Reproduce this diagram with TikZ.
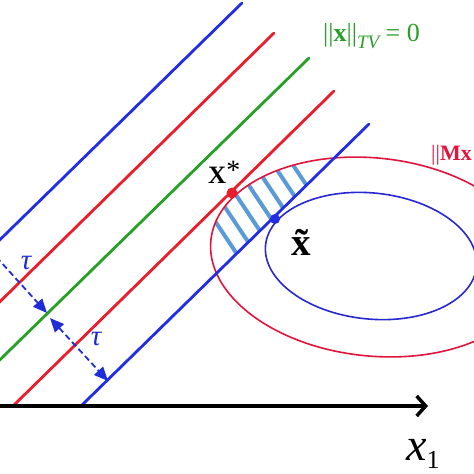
\documentclass[tikz,border=0pt]{standalone}
\usepackage{fontspec}
\setmainfont{Liberation Serif}
\usetikzlibrary{arrows.meta,calc}
\definecolor{lblue}{RGB}{35,45,225}
\definecolor{lred}{RGB}{232,30,45}
\definecolor{lgreen}{RGB}{40,160,40}
\definecolor{ered}{RGB}{225,20,60}
\definecolor{eblue}{RGB}{40,40,210}
\definecolor{hatchc}{RGB}{90,155,215}
\definecolor{taublue}{RGB}{30,45,215}
\tikzset{
  fam/.style={line width=2.8pt, line cap=round},
  ell/.style={line width=1.6pt},
  tauarrow/.style={taublue, line width=1.8pt, dash pattern=on 6pt off 3.5pt,
     arrows={-Triangle[length=14pt,width=12pt]}},
  tauarrowboth/.style={taublue, line width=1.8pt, dash pattern=on 6pt off 3.5pt,
     arrows={Triangle[length=14pt,width=12pt]-Triangle[length=14pt,width=12pt]}},
  hatchline/.style={hatchc, line width=4pt},
  lbl/.style={inner sep=0pt, anchor=base west},
  redell/.style={rotate around={-6:(373,257)}},
}
\begin{document}
\begin{tikzpicture}[x=1pt,y=-1pt]
\useasboundingbox (0,0) rectangle (474,474);
\clip (0,0) rectangle (474,474);
\fill[white] (0,0) rectangle (474,474);

% hatching
\begin{scope}
  \clip[redell] (373,257) ellipse [x radius=163, y radius=99];
  \clip (0,485) -- (474,21) -- (474,-10) -- (0,-10) -- cycle;
  \foreach \k in {0,...,6}{
    \coordinate (hp) at ({299-13.3*\k},{174+8.9*\k});
    \draw[hatchline] ($(hp)+(-22.2,-33.3)$) -- ($(hp)+(22.2,33.3)$);
  }
\end{scope}

% ellipses
\draw[ell, ered, redell] (373,257) ellipse [x radius=163, y radius=99];
\draw[ell, eblue, rotate around={-6:(371,256)}] (371,256) ellipse [x radius=106, y radius=63];

% family of lines
\coordinate (b1a) at (-30,269); \coordinate (b1b) at (242,3);
\coordinate (r1a) at (-30,331); \coordinate (r1b) at (274,33);
\coordinate (ga)  at (-30,389); \coordinate (gb)  at (309,58);
\coordinate (r2a) at (13,406);  \coordinate (r2b) at (334,91);
\coordinate (b2a) at (81,406);  \coordinate (b2b) at (369,124);
\draw[fam, lblue] (b1a) -- (b1b);
\draw[fam, lred] (r1a) -- (r1b);
\draw[fam, lgreen] (ga) -- (gb);
\draw[fam, lred] (r2a) -- (r2b);
\draw[fam, lblue] (b2a) -- (b2b);

% axis
\coordinate (ax0) at (-5,406);
\coordinate (ax1) at (428,406);
\draw[line width=3.5pt, arrows={-Straight Barb[length=9pt,width=20pt,line width=3.5pt]}] (ax0) -- (ax1);

% tau arrows
\coordinate (t1a) at (-10,250);
\coordinate (t1b) at (47,313);
\coordinate (t2a) at (50,318);
\coordinate (t2b) at (108,381);
\draw[tauarrow] (t1a) -- (t1b);
\draw[tauarrowboth] (t2a) -- (t2b);
\node[taublue, font=\fontsize{29}{29}\selectfont\itshape] (tau1) at (26,263) {τ};
\node[taublue, font=\fontsize{29}{29}\selectfont\itshape] (tau2) at (96,339) {τ};

% points
\fill[lred] (232,193) circle (5.5);
\fill[lblue] (275,219) circle (5);
\coordinate (xstar) at (232,193);
\coordinate (xtilde) at (275,219);

% labels
\node[lbl, font=\fontsize{25}{25}\selectfont] (lxs) at (208,183) {\textbf{X}\raisebox{4pt}{\fontsize{28}{28}\selectfont *}};
\node[lbl, font=\fontsize{39}{39}\selectfont] (lxt) at (291,255) {\textbf{\~x}};
\node[lbl, lgreen, font=\fontsize{26}{26}\selectfont] (ltv) at (323,41)
  {||\textbf{x}||\raisebox{-7pt}{\fontsize{19}{19}\selectfont\itshape TV} = 0};
\node[lbl, ered, font=\fontsize{22}{22}\selectfont] (lmx) at (431,160) {||\textbf{Mx}};
\node[lbl, font=\fontsize{46}{46}\selectfont] (lx1) at (406,460)
  {\textit{x}\raisebox{-8pt}{\fontsize{26}{26}\selectfont 1}};
\end{tikzpicture}
\end{document}
